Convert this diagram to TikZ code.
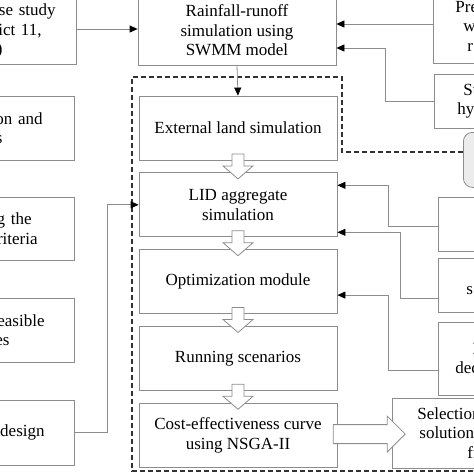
\documentclass[tikz,border=0pt]{standalone}
\usepackage{fontspec}
\setmainfont{Liberation Serif}
\usetikzlibrary{arrows.meta, positioning, calc}
\definecolor{lineGray}{RGB}{140,140,140}
\definecolor{frameGray}{RGB}{236,236,236}
\definecolor{dashGray}{RGB}{50,50,50}
\newcommand{\padR}[1]{\rule{#1}{0pt}}

\begin{document}
\begin{tikzpicture}[x=1pt, y=-1pt,
  node distance=12pt,
  font=\fontsize{17}{19.5}\selectfont,
  cbox/.style={rectangle, draw=lineGray, line width=0.8pt,
               minimum width=198pt, minimum height=64pt,
               align=center, inner sep=2pt},
  lbox/.style={rectangle, draw=lineGray, line width=0.8pt, anchor=east,
               text width=120pt, inner xsep=0pt, align=right},
  rbox/.style={rectangle, draw=lineGray, line width=0.8pt, anchor=west,
               text width=120pt, inner xsep=0pt, align=left},
  arrow/.style={-{Triangle[length=8pt, width=7pt, color=black]},
                draw=lineGray, line width=0.8pt},
  blockline/.style={draw=lineGray, line width=0.8pt, fill=white},
  blockdown/.pic={\draw[blockline] (-6,-12.5) -- (-6,-0.5) -- (-15,-0.5) -- (0,12.5)
                    -- (15,-0.5) -- (6,-0.5) -- (6,-12.5) -- cycle;},
  blockright/.pic={\draw[blockline] (-36,-9.5) -- (18,-9.5) -- (18,-18) -- (36,0)
                    -- (18,18) -- (18,9.5) -- (-36,9.5) -- cycle;},
  dashline/.style={draw=dashGray, line width=1.1pt, dash pattern=on 5pt off 3pt},
]
  \useasboundingbox (0,0) rectangle (474,474);

  % dashed frame round the optimization part
  \node[draw=lineGray, fill=frameGray, rounded corners=9pt, line width=0.8pt,
        anchor=north west, minimum width=80pt, minimum height=55pt] (frame) at (463,132) {};
  \draw[dashline] (frame.west |- 0,152) -- (342,152) -- (342,77) -- (132,77)
    -- (132,471) -- (530,471);

  % left column
  \node[lbox, minimum height=66pt] (study) at (77,31)
    {se study\padR{21pt}\\ict 11,\padR{35pt}\\)\padR{74pt}};
  \node[lbox, minimum height=64pt] (data) at (75,128)
    {on and\padR{32pt}\\s\padR{72pt}};
  \node[lbox, minimum height=63pt] (criteria) at (75,228.5)
    {g the\padR{43pt}\\riteria\padR{37pt}};
  \node[lbox, minimum height=64pt] (feasible) at (75,330)
    {easible\padR{30pt}\\es\padR{65pt}};
  \node[lbox, minimum height=65pt] (design) at (75,432.5)
    {design\padR{30pt}};

  % center column
  \node[cbox, minimum height=69pt] (rain) at (237,30.5)
    {Rainfall-runoff\\simulation using\\SWMM model};
  \node[cbox] (ext) at (238,128) {External land simulation};
  \node[cbox, below=of ext] (lid) {LID aggregate\\simulation};
  \node[cbox, below=of lid] (opt) {Optimization module};
  \node[cbox, below=of opt] (run) {Running scenarios};
  \node[cbox, below=of run] (cost) {Cost-effectiveness curve\\using NSGA-II};

  % right column
  \node[rbox, minimum height=74pt] (pre) at (433,26)
    {\hspace*{22pt}Pre\\\hspace*{30pt}w\\\hspace*{34pt}r};
  \node[rbox, minimum height=54pt] (st) at (434,101)
    {\hspace*{29pt}St\\\hspace*{23pt}hy};
  \node[rbox, minimum height=54pt] (rc) at (438,224) {};
  \node[rbox, minimum height=54pt] (rd) at (438,285)
    {\mbox{}\\\hspace*{28pt}s};
  \node[rbox, minimum height=73pt] (dec) at (438,358.5)
    {\hspace*{34pt}I\\\hspace*{17pt}dec};
  \node[rbox, minimum height=70pt, text width=180pt] (sel) at (392,433)
    {\hspace*{25pt}Selection\\\hspace*{27pt}solution\\\hspace*{75pt}fr};

  % block arrows
  \pic at ($(ext.south)!0.5!(lid.north)$) {blockdown};
  \pic at ($(lid.south)!0.5!(opt.north)$) {blockdown};
  \pic at ($(opt.south)!0.5!(run.north)$) {blockdown};
  \pic at ($(run.south)!0.5!(cost.north)$) {blockdown};
  \pic at ($(cost.east)!0.5!(sel.west)+(4.5,0)$) {blockright};

  % connectors
  \draw[arrow] (study.east |- 0,29) -- (rain.west |- 0,29);
  \draw[arrow] (rain.south) -- (ext.north);
  \draw[arrow] (pre.west |- 0,24) -- (rain.east |- 0,24);
  \draw[arrow] (st.west) -- ++(-49,0) |- ([yshift=-17.5pt]rain.east);
  \draw[arrow] ([yshift=-2pt]rc.west) -- ++(-50,0) |- ([yshift=19.5pt]lid.east);
  \draw[arrow] ([yshift=-13pt]rd.west) -- ++(-38,0) |- ([yshift=-27.5pt]lid.east);
  \draw[arrow] ([yshift=-11.5pt]dec.west) -- ++(-50,0) |- ([yshift=-13.5pt]opt.east);
  \draw[arrow] (design.east) -- ++(32,0) |- (lid.west);
\end{tikzpicture}
\end{document}
